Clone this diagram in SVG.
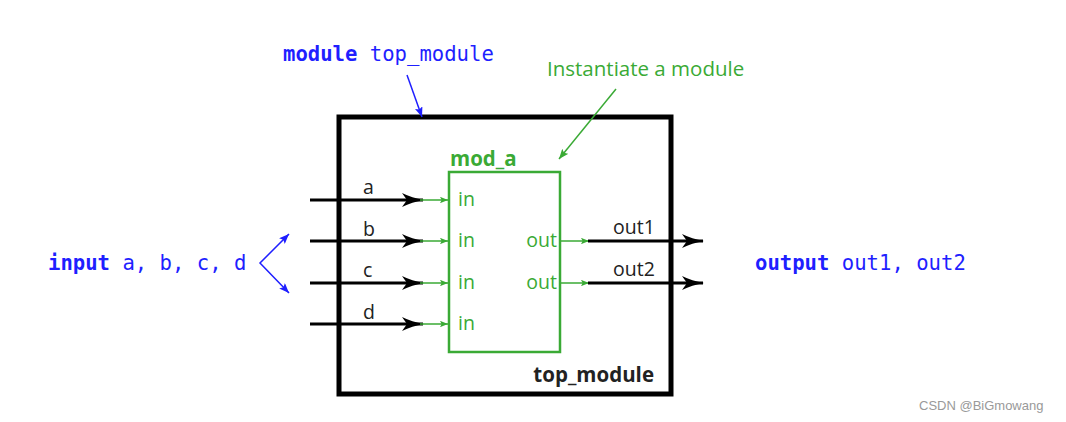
<svg xmlns="http://www.w3.org/2000/svg" width="1066" height="422" viewBox="0 0 1066 422">
<style>
.mono{font-family:"DejaVu Sans Mono","Liberation Mono",monospace;font-size:20.6px;fill:#1f1fff}
.b{font-weight:bold}
.sans{font-family:"Open Sans","Noto Sans",sans-serif;font-size:19.5px}
.g{fill:#3aaa35}
.k{fill:#222}
.wire{stroke:#000;stroke-width:3;fill:none}
.gw{stroke:#3aaa35;stroke-width:1.5;fill:none}
</style>
<defs>
<marker id="ah" viewBox="0 0 22 14" refX="21" refY="7" markerWidth="22" markerHeight="14" markerUnits="userSpaceOnUse" orient="auto">
<path d="M0,0 Q10,5 22,7 Q10,9 0,14 L5,7 Z" fill="#000"/>
</marker>
<marker id="gh" viewBox="0 0 10 8" refX="10" refY="4" markerWidth="8" markerHeight="6.4" markerUnits="userSpaceOnUse" orient="auto">
<path d="M0,0 L10,4 L0,8 L2,4 Z" fill="#3aaa35"/>
</marker>
<marker id="bh" viewBox="0 0 10 8" refX="10" refY="4" markerWidth="10" markerHeight="8" markerUnits="userSpaceOnUse" orient="auto-start-reverse">
<path d="M0,0 L10,4 L0,8 L2,4 Z" fill="#1f1fff"/>
</marker>
<marker id="gh2" viewBox="0 0 10 8" refX="10" refY="4" markerWidth="10" markerHeight="8" markerUnits="userSpaceOnUse" orient="auto">
<path d="M0,0 L10,4 L0,8 L2,4 Z" fill="#3aaa35"/>
</marker>
</defs>
<rect width="1066" height="422" fill="#fff"/>

<g id="top_module">
<rect x="339" y="117" width="332" height="277" fill="none" stroke="#000" stroke-width="5"/>
<text x="654" y="382" text-anchor="end" class="sans b k" style="font-size:20.5px">top_module</text>
</g>

<g id="mod_a">
<rect x="449" y="172" width="111" height="180" fill="none" stroke="#3aaa35" stroke-width="2.5"/>
<text x="450" y="166" class="sans b g" style="font-size:20.5px">mod_a</text>
<text x="458" y="206" class="sans g">in</text>
<text x="458" y="247" class="sans g">in</text>
<text x="458" y="289" class="sans g">in</text>
<text x="458" y="330" class="sans g">in</text>
<text x="557" y="247" text-anchor="end" class="sans g">out</text>
<text x="557" y="289" text-anchor="end" class="sans g">out</text>
</g>

<g id="labels">
<text x="283" y="61" class="mono"><tspan class="b">module</tspan> top_module</text>
<text x="547" y="76" class="sans g" style="font-size:20.5px">Instantiate a module</text>
<text x="48" y="270" class="mono"><tspan class="b">input</tspan> a, b, c, d</text>
<text x="755" y="270" class="mono"><tspan class="b">output</tspan> out1, out2</text>
<text x="363" y="194" class="sans k">a</text>
<text x="363" y="236" class="sans k">b</text>
<text x="363" y="277" class="sans k">c</text>
<text x="363" y="319" class="sans k">d</text>
<text x="613" y="234" class="sans k">out1</text>
<text x="613" y="276" class="sans k">out2</text>
<text x="919" y="410" style="font-family:'Liberation Sans',Arial,sans-serif;font-size:13px;fill:#999">CSDN @BiGmowang</text>
</g>

<g id="connectors">
<line x1="310" y1="200" x2="423" y2="200" class="wire" marker-end="url(#ah)"/>
<line x1="310" y1="241" x2="423" y2="241" class="wire" marker-end="url(#ah)"/>
<line x1="310" y1="283" x2="423" y2="283" class="wire" marker-end="url(#ah)"/>
<line x1="310" y1="324" x2="423" y2="324" class="wire" marker-end="url(#ah)"/>
<line x1="420" y1="200" x2="448" y2="200" class="gw" marker-end="url(#gh)"/>
<line x1="420" y1="241" x2="448" y2="241" class="gw" marker-end="url(#gh)"/>
<line x1="420" y1="283" x2="448" y2="283" class="gw" marker-end="url(#gh)"/>
<line x1="420" y1="324" x2="448" y2="324" class="gw" marker-end="url(#gh)"/>
<line x1="561" y1="241" x2="589" y2="241" class="gw" marker-end="url(#gh)"/>
<line x1="561" y1="283" x2="589" y2="283" class="gw" marker-end="url(#gh)"/>
<line x1="588" y1="241" x2="703" y2="241" class="wire" marker-end="url(#ah)"/>
<line x1="588" y1="283" x2="703" y2="283" class="wire" marker-end="url(#ah)"/>
<line x1="407" y1="75" x2="422" y2="117" stroke="#1f1fff" stroke-width="1.5" marker-end="url(#bh)"/>
<polyline points="289,234 260,263 289,293" fill="none" stroke="#1f1fff" stroke-width="1.5" marker-start="url(#bh)" marker-end="url(#bh)"/>
<line x1="616" y1="89" x2="559" y2="159" stroke="#3aaa35" stroke-width="1.5" marker-end="url(#gh2)"/>
</g>
</svg>
